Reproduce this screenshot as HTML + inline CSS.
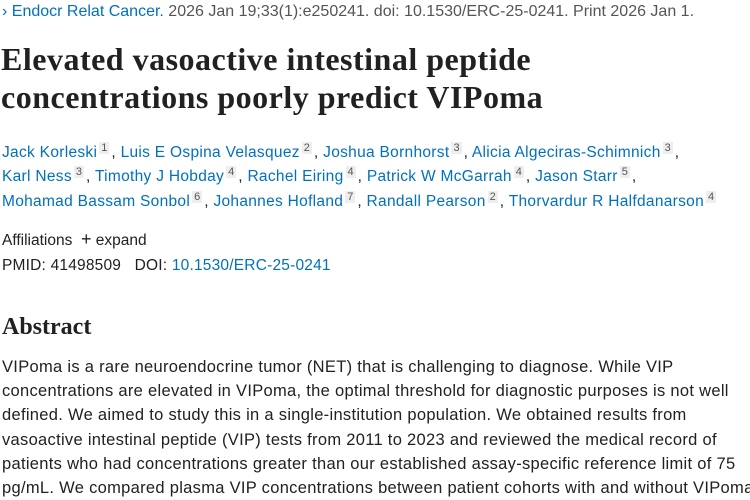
<!DOCTYPE html>
<html><head><meta charset="utf-8"><style>
body{margin:0;width:750px;height:500px;overflow:hidden;background:#fff;font-family:"Liberation Sans",sans-serif;color:#212121;}
.l{position:absolute;left:2px;white-space:nowrap;}
a{color:#0071bc;text-decoration:none;}
.t{font-family:"Liberation Serif",serif;font-weight:bold;font-size:32px;letter-spacing:0.5px;color:#212121;left:1px;}
.au{font-size:15.5px;letter-spacing:0.3px;}
sup{font-size:11px;background:#eee;color:#555;padding:0 2px;margin:0 2px;vertical-align:6px;letter-spacing:0;}
.p{font-size:15.5px;color:#212121;}
</style></head><body>
<div class="l" style="top:3px;font-size:16px;color:#555"><a>&#8250; Endocr Relat Cancer.</a> 2026 Jan 19;33(1):e250241. doi: 10.1530/ERC-25-0241. Print 2026 Jan 1.</div>
<div class="l t" style="top:41px">Elevated vasoactive intestinal peptide</div>
<div class="l t" style="top:79px">concentrations poorly predict VIPoma</div>
<div class="l au" style="top:142px"><a>Jack Korleski</a><sup>1</sup>, <a>Luis E Ospina Velasquez</a><sup>2</sup>, <a>Joshua Bornhorst</a><sup>3</sup>, <a>Alicia Algeciras-Schimnich</a><sup>3</sup>,</div>
<div class="l au" style="top:166px"><a>Karl Ness</a><sup>3</sup>, <a>Timothy J Hobday</a><sup>4</sup>, <a>Rachel Eiring</a><sup>4</sup>, <a>Patrick W McGarrah</a><sup>4</sup>, <a>Jason Starr</a><sup>5</sup>,</div>
<div class="l au" style="top:191px"><a>Mohamad Bassam Sonbol</a><sup>6</sup>, <a>Johannes Hofland</a><sup>7</sup>, <a>Randall Pearson</a><sup>2</sup>, <a>Thorvardur R Halfdanarson</a><sup>4</sup></div>
<div class="l p" style="top:229px">Affiliations &nbsp;<span style="font-size:18px">+</span> expand</div>
<div class="l p" style="top:257px;letter-spacing:0.2px">PMID: 41498509 &nbsp;&nbsp;DOI: <a>10.1530/ERC-25-0241</a></div>
<div class="l" style="top:314px;font-family:'Liberation Serif',serif;font-weight:bold;font-size:24px">Abstract</div>
<div class="l p" style="top:355px;line-height:24.2px;font-size:16.5px;letter-spacing:0.3px">VIPoma is a rare neuroendocrine tumor (NET) that is challenging to diagnose. While VIP<br>concentrations are elevated in VIPoma, the optimal threshold for diagnostic purposes is not well<br>defined. We aimed to study this in a single-institution population. We obtained results from<br>vasoactive intestinal peptide (VIP) tests from 2011 to 2023 and reviewed the medical record of<br>patients who had concentrations greater than our established assay-specific reference limit of 75<br>pg/mL. We compared plasma VIP concentrations between patient cohorts with and without VIPoma</div>
</body></html>
